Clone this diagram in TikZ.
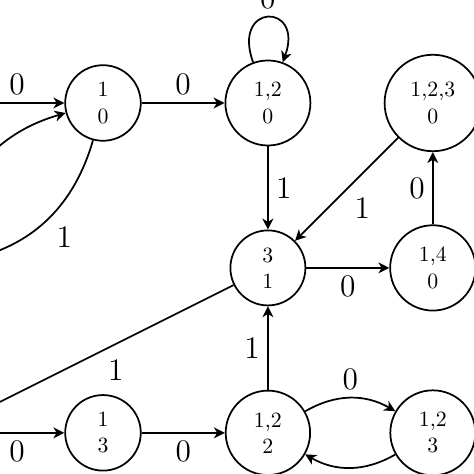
\documentclass[tikz,border=0pt]{standalone}
\usetikzlibrary{arrows.meta}
\begin{document}
\begin{tikzpicture}[thick,>={Stealth[length=5pt,width=5pt,inset=1.5pt]},
  state/.style={circle,draw,align=center,inner sep=5.8pt,minimum size=1cm},
  lab/.style={font=\Large}]
\useasboundingbox(-1.661,1.661)rectangle(5.984,-5.984);
\node[state](a)at(-2.66,0){};
\node[state](b)at(-2.66,-2.66){};
\node[state](c)at(-2.66,-5.32){};
\node[state](s10)at(0,0){1\\0};
\node[state](s120)at(2.66,0){1,2\\0};
\node[state](s1230)at(5.32,0){1,2,3\\0};
\node[state](s31)at(2.66,-2.66){3\\1};
\node[state](s140)at(5.32,-2.66){1,4\\0};
\node[state](s13)at(0,-5.32){1\\3};
\node[state](s122)at(2.66,-5.32){1,2\\2};
\node[state](s123)at(5.32,-5.32){1,2\\3};
\draw[->](a)--node[above,lab]{0}(s10);
\draw[->](s10)to[bend left=30]node[below right,lab]{1}(b);
\draw[->](b)to[bend left=30](s10);
\draw[->](s10)--node[above,lab]{0}(s120);
\draw[->](s120)to[loop above,out=110,in=70,looseness=5.5]node[above,lab]{0}(s120);
\draw[->](s120)--node[right,lab]{1}(s31);
\draw[->](s1230)--node[below right,lab]{1}(s31);
\draw[->](s140)--node[left,lab]{0}(s1230);
\draw[->](s31)--node[below,lab]{0}(s140);
\draw[->](s31)--node[below right,lab]{1}(c);
\draw[->](c)--node[below,lab]{0}(s13);
\draw[->](s13)--node[below,lab]{0}(s122);
\draw[->](s122)--node[left,lab]{1}(s31);
\draw[->](s122)to[bend left=30]node[above,lab]{0}(s123);
\draw[->](s123)to[bend left=30](s122);
\end{tikzpicture}
\end{document}
